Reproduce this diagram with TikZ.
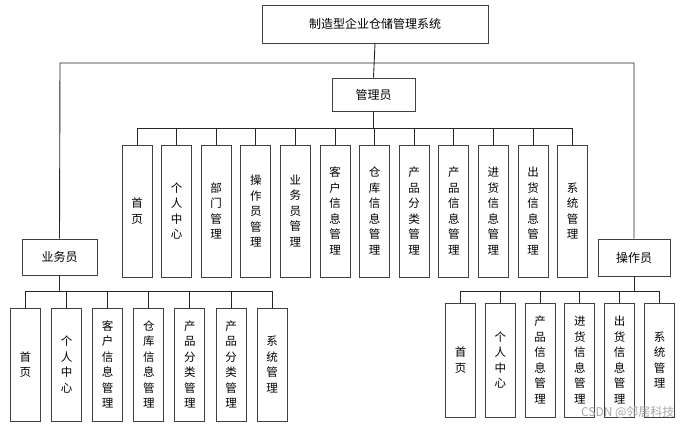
\documentclass[tikz,border=0pt]{standalone}
\usepackage{fontspec}
\setmainfont{Noto Sans CJK SC}
\begin{document}
\begin{tikzpicture}[x=1pt,y=-1pt,
 bx/.style={draw=black!75,line width=0.9pt,inner sep=0pt,font=\fontsize{12}{14}\selectfont},
 vb/.style={draw=black!75,line width=0.9pt,inner sep=0pt,minimum width=30pt,font=\fontsize{11.5}{15.5}\selectfont,align=center},
 ln/.style={line width=0.9pt,draw=black!85}]
\useasboundingbox (0,0) rectangle (690,432);
\node[bx,minimum width=226pt,minimum height=38pt] (sys) at (375,24) {制造型企业仓储管理系统};
\node[bx,minimum width=83pt,minimum height=33pt] (adm) at (373.5,94.5) {管理员};
\node[bx,minimum width=75pt,minimum height=36pt] (yw) at (59.5,257) {业务员};
\node[bx,minimum width=72pt,minimum height=37pt] (cz) at (634,257.5) {操作员};
\coordinate (busL) at (60,63); \coordinate (busR) at (634,63);
\draw[ln] (sys.south) -- (adm.north);
\draw[ln] (yw.north) -- (busL) -- (busR) -- (cz.north);
% admin children
\foreach \t [count=\i] in {首\\页,个\\人\\中\\心,部\\门\\管\\理,操\\作\\员\\管\\理,业\\务\\员\\管\\理,客\\户\\信\\息\\管\\理,仓\\库\\信\\息\\管\\理,产\\品\\分\\类\\管\\理,产\\品\\信\\息\\管\\理,进\\货\\信\\息\\管\\理,出\\货\\信\\息\\管\\理,系\\统\\管\\理}{
 \node[vb,minimum height=132pt] (a\i) at ({137+39.6*(\i-1)},211) {\t};
 \draw[ln] (a\i.north) |- (adm.south |- 0,128) -- (adm.south);
}
% yewu children
\foreach \t [count=\i] in {首\\页,个\\人\\中\\心,客\\户\\信\\息\\管\\理,仓\\库\\信\\息\\管\\理,产\\品\\分\\类\\管\\理,产\\品\\分\\类\\管\\理,系\\统\\管\\理}{
 \node[vb,minimum height=113pt] (b\i) at ({25.5+41.1*(\i-1)},364.5) {\t};
 \draw[ln] (b\i.north) |- (yw.south |- 0,291) -- (yw.south);
}
% caozuo children
\foreach \t [count=\i] in {首\\页,个\\人\\中\\心,产\\品\\信\\息\\管\\理,进\\货\\信\\息\\管\\理,出\\货\\信\\息\\管\\理,系\\统\\管\\理}{
 \node[vb,minimum height=114pt] (c\i) at ({460.5+39.8*(\i-1)},360) {\t};
 \draw[ln] (c\i.north) |- (cz.south |- 0,291) -- (cz.south);
}
\node[text=black!35,font=\fontsize{12}{14}\selectfont,anchor=east] (wm) at (678,412) {CSDN @邻居科技};
\end{tikzpicture}
\end{document}
